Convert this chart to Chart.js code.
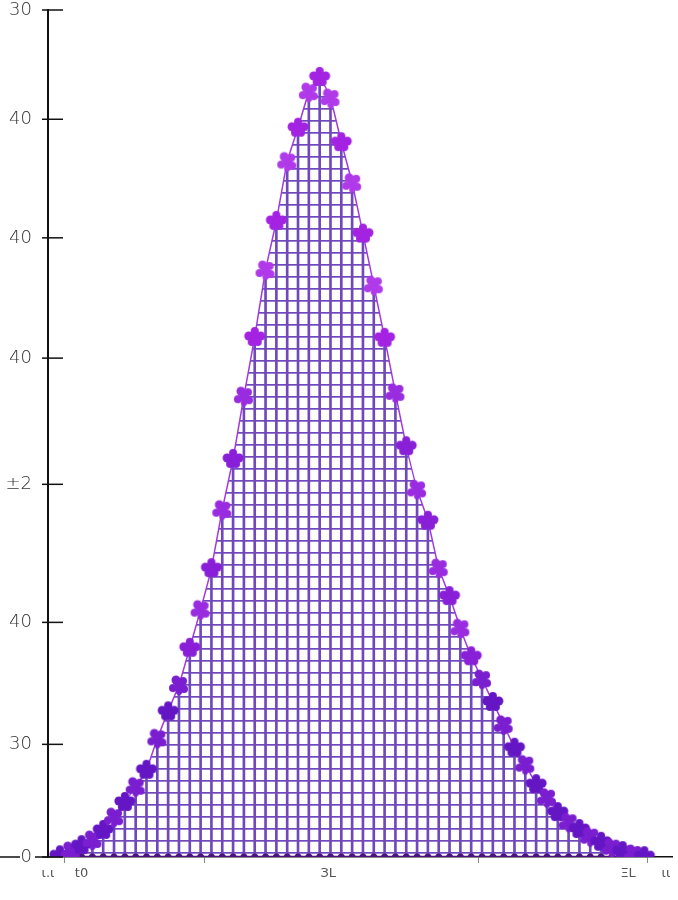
<!DOCTYPE html>
<html>
<head>
<meta charset="utf-8">
<script src="https://cdn.jsdelivr.net/npm/chart.js@4.4.0/dist/chart.umd.min.js"></script>
<style>
body { margin: 0; background: #fff; }
</style>
</head>
<body>
<canvas id="c" width="678" height="900"></canvas>
<script>
// curve height at each step (axis units 0..100)
var curveVals = [0.2,0.7,1.4,2.0,3.2,4.7,6.5,8.3,10.3,14.0,17.2,20.3,24.7,29.2,34.1,41.0,47.0,54.4,61.4,69.3,
	75.1,82.1,86.1,90.3,92.1,89.6,84.4,79.6,73.6,67.5,61.3,54.8,48.5,43.4,39.7,34.1,30.8,27.0,23.7,21.0,
	18.3,15.6,12.9,10.9,8.6,7.0,5.3,4.1,3.3,2.4,1.8,1.1,0.7,0.35,0.1];
var yTickVals = [100, 87.1, 73.1, 58.9, 44.0, 27.7, 13.3, 0];
var yTickLabels = ['30', '40', '40', '40', '±2', '40', '30', '0'];
var xTickVals = [-1.1, 2, 24.8, 52.5, 56];
var xTickLabels = ['ι.ι', 't0', 'ЗL', 'ΞL', 'ιι'];

var curvePts = curveVals.map(function (v, i) { return {x: i, y: v}; });
var basePts = curveVals.map(function (v, i) { return {x: i, y: 0}; });

var canvas = document.getElementById('c');
var ctx = canvas.getContext('2d');

// thin horizontal lines used to fill the area under the curve
function hatch() {
	var c = document.createElement('canvas');
	c.width = 4; c.height = 12;
	var g = c.getContext('2d');
	g.fillStyle = '#7048bc';
	g.fillRect(0, 0, 4, 1.7);
	return ctx.createPattern(c, 'repeat');
}

// little cluster of blobs used as the marker along the curve
function flower(col, alt) {
	var c = document.createElement('canvas');
	c.width = 24; c.height = 24;
	var g = c.getContext('2d');
	var blobs = alt
		? [[9,7,4.5],[16,8,4],[12,13,4.5],[6,15,4],[17,16,4],[12,19,3]]
		: [[12,6,4],[6,11,4.5],[18,11,4.5],[9,17,4],[15,17,4],[12,12,3.5]];
	g.fillStyle = col;
	blobs.forEach(function (b) {
		g.beginPath();
		g.arc(b[0], b[1], b[2], 0, Math.PI * 2);
		g.fill();
	});
	return c;
}
var flowers = {
	hi: [flower('#a423e2', false), flower('#b03aea', true)],
	mid: [flower('#8a1fd8', false), flower('#9a2ce0', true)],
	lo: [flower('#6516c4', false), flower('#7a1ed0', true)]
};

var tickPlugin = {
	id: 'ticks',
	afterDraw: function (chart) {
		var y = chart.scales.y, area = chart.chartArea;
		var c = chart.ctx;
		c.save();
		c.strokeStyle = '#111';
		c.lineWidth = 1.5;
		yTickVals.forEach(function (v) {
			var py = y.getPixelForValue(v);
			c.beginPath();
			c.moveTo(area.left - 6, py);
			c.lineTo(area.left + 15, py);
			c.stroke();
		});
		// baseline runs out to the left edge, around the "0"
		var py0 = y.getPixelForValue(0);
		c.beginPath();
		c.moveTo(0, py0); c.lineTo(20, py0);
		c.moveTo(35, py0); c.lineTo(area.left, py0);
		c.stroke();
		c.restore();
	}
};

var chart = new Chart(ctx, {
	type: 'bar',
	data: {
		datasets: [
			{
				type: 'line',
				label: 'curve',
				data: curvePts,
				borderColor: '#a03ae0',
				borderWidth: 1.5,
				tension: 0.1,
				fill: 'origin',
				backgroundColor: hatch(),
				pointStyle: function (c) {
					var v = c.raw ? c.raw.y : 0;
					var set = v > 60 ? flowers.hi : (v > 22 ? flowers.mid : flowers.lo);
					return set[c.dataIndex % 2];
				},
				order: 0
			},
			{
				type: 'line',
				label: 'base',
				data: basePts,
				borderColor: '#4a127e',
				borderWidth: 2.5,
				pointRadius: 3.5,
				pointBackgroundColor: '#4a127e',
				pointBorderWidth: 0,
				order: 1
			},
			{
				type: 'bar',
				label: 'stems',
				data: curvePts,
				backgroundColor: '#7048bc',
				barThickness: 2,
				order: 2
			}
		]
	},
	options: {
		responsive: false,
		animation: false,
		layout: { padding: { top: 10, right: 2, left: 0, bottom: 0 } },
		plugins: {
			legend: { display: false },
			tooltip: { enabled: false },
			filler: { drawTime: 'beforeDatasetsDraw' }
		},
		scales: {
			x: {
				type: 'linear',
				min: -1.1,
				max: 56.6,
				offset: false,
				afterBuildTicks: function (s) { s.ticks = xTickVals.map(function (v) { return {value: v}; }); },
				afterFit: function (s) { s.height = 43; s.paddingLeft = 0; s.paddingRight = 0; },
				border: { color: '#111', width: 1.5 },
				grid: { drawOnChartArea: false, tickLength: 6, tickColor: '#888' },
				ticks: {
					autoSkip: false,
					maxRotation: 0,
					padding: 3,
					color: '#555',
					font: { family: 'DejaVu Sans', size: 13 },
					callback: function (v, i) { return xTickLabels[i]; }
				}
			},
			y: {
				min: 0,
				max: 100,
				afterBuildTicks: function (s) { s.ticks = yTickVals.map(function (v) { return {value: v}; }); },
				afterFit: function (s) { s.width = 48; s.paddingTop = 0; s.paddingBottom = 0; },
				border: { color: '#111', width: 2 },
				grid: { drawOnChartArea: false, drawTicks: false },
				ticks: {
					autoSkip: false,
					padding: 16,
					color: '#333',
					font: { family: 'DejaVu Sans', size: 18, weight: 200, lineHeight: 1 },
					callback: function (v, i) { return yTickLabels[i]; }
				}
			}
		}
	},
	plugins: [tickPlugin]
});
</script>
</body>
</html>
